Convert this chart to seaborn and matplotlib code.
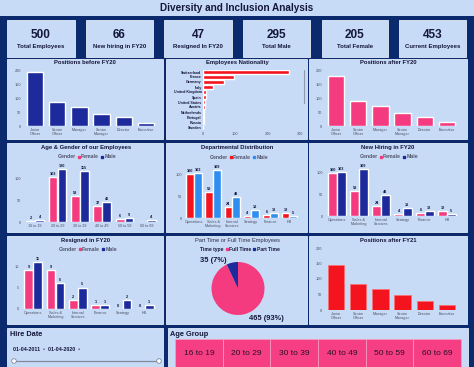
import numpy as np
import pandas as pd
import matplotlib
matplotlib.use("Agg")
import matplotlib.pyplot as plt
import seaborn as sns
from matplotlib.patches import Rectangle, Circle
from matplotlib.lines import Line2D

# ---------------- data ----------------
title = "Diversity and Inclusion Analysis"
kpi_values = ["500", "66", "47", "295", "205", "453"]
kpi_labels = ["Total Employees", "New hiring in FY20", "Resigned In FY20",
              "Total Male", "Total Female", "Current Employees"]

positions = ["Junior\nOfficer", "Senior\nOfficer", "Manager", "Senior\nManager", "Director", "Executive"]
before_fy20 = [192, 87, 69, 42, 33, 11]
after_fy20 = [179, 90, 72, 46, 33, 13]
after_fy21 = [146, 83, 69, 47, 29, 16]

countries = ["Switzerland", "France", "Germany", "Italy", "United Kingdom", "Spain",
             "United States", "Austria", "Netherlands", "Portugal", "Russia", "Sweden"]
country_counts = [267, 95, 66, 32, 9, 8, 7, 6, 4, 3, 2, 1]

age_groups = ["16 to 19", "20 to 29", "30 to 39", "40 to 49", "50 to 59", "60 to 69"]
age_female = [2, 103, 59, 37, 6, 0]
age_male = [4, 120, 115, 46, 9, 4]
age_female_labels = ["2", "103", "59", "37", "6", ""]

departments = ["Operations", "Sales &\nMarketing", "Internal\nServices", "Strategy", "Finance", "HR"]
dept_female = [100, 59, 24, 4, 6, 12]
dept_male = [103, 109, 48, 18, 12, 5]
hire_female = [100, 59, 24, 4, 6, 12]
hire_male = [103, 109, 48, 18, 12, 5]

resign_depts = ["Operations", "Sales &\nMarketing", "Internal\nServices", "Finance", "Strategy", "HR"]
resign_female = [9, 9, 2, 1, 0, 0]
resign_male = [11, 6, 5, 1, 2, 1]

time_types = ["Full Time", "Part Time"]
time_counts = [465, 35]
time_labels = ["465 (93%)", "35 (7%)"]

hire_date_text = "01-04-2011  \u25ab  01-04-2020  \u25ab"

# ---------------- style ----------------
sns.set_theme(style="white")
plt.rcParams['font.family'] = ['Liberation Sans', 'DejaVu Sans']

W, H = 474, 367
NAVY = "#0B2A6E"
PANEL = "#C8DBF6"
EDGE = "#E4EDFA"
DBLUE = "#1C2A9C"
PINK = "#F53B80"
RED = "#F3141E"
LBLUE = "#2F8EF0"
TXT = "#14163A"
TICK = "#4A4E60"

fig = plt.figure(figsize=(W / 100, H / 100), dpi=100, facecolor=NAVY)
bg = fig.add_axes([0, 0, 1, 1], zorder=0)
bg.set_xlim(0, W)
bg.set_ylim(H, 0)
bg.axis('off')


def box(x0, y0, x1, y1, fc=PANEL, ec=EDGE, lw=0.6):
    bg.add_patch(Rectangle((x0, y0), x1 - x0, y1 - y0, facecolor=fc, edgecolor=ec, lw=lw))


def chart_ax(x0, y0, x1, y1):
    ax = fig.add_axes([x0 / W, 1 - y1 / H, (x1 - x0) / W, (y1 - y0) / H], zorder=2)
    ax.set_facecolor('none')
    return ax


def style(ax, ylim, yticks, xsize=2.7):
    sns.despine(ax=ax, left=True, bottom=True)
    ax.set_xlabel('')
    ax.set_ylabel('')
    ax.set_ylim(*ylim)
    ax.set_yticks(yticks)
    ax.tick_params(axis='y', length=0, labelsize=2.8, labelcolor=TICK, pad=2)
    ax.tick_params(axis='x', length=0, labelsize=xsize, labelcolor=TICK, pad=1.5)
    for lab in ax.get_xticklabels():
        lab.set_linespacing(0.95)
    ax.grid(False)


def ptitle(x, y, s, **kw):
    bg.text(x, y, s, ha='center', va='center', fontsize=kw.pop('fontsize', 4.2),
            fontweight=kw.pop('fontweight', 'bold'), color=kw.pop('color', TXT), **kw)


def inline_legend(ax, x, y, title, labels, colors, fs=3.7, tcolor="#50546A"):
    handles = [Line2D([], [], linestyle='none')] + [
        Line2D([], [], linestyle='none', marker='s', markersize=1.8, color=c) for c in colors]
    leg = ax.legend(handles, [title] + labels, loc='center', bbox_to_anchor=(x / W, 1 - y / H),
                    bbox_transform=fig.transFigure, ncol=len(handles), frameon=False,
                    fontsize=fs, handlelength=0.5, handletextpad=0.2, columnspacing=0.4,
                    borderpad=0, borderaxespad=0)
    for t in leg.get_texts():
        t.set_color(tcolor)
        t.set_fontweight('bold')
    return leg


# ---------------- title strip & KPI cards ----------------
box(0, 0, W, 15.5, ec='none')
bg.text(W / 2, 7.8, title, ha='center', va='center', fontsize=7.2, fontweight='bold', color=TXT)

cards = [(7, 75), (86, 153), (164, 232), (243, 310), (322, 388), (399, 466)]
for (x0, x1), v, lab in zip(cards, kpi_values, kpi_labels):
    box(x0, 20, x1, 56.5)
    bg.text((x0 + x1) / 2, 35, v, ha='center', va='center', fontsize=8.5, fontweight='bold', color=TXT)
    bg.text((x0 + x1) / 2, 46.5, lab, ha='center', va='center', fontsize=4.3, fontweight='bold', color=TXT)

# ---------------- panels ----------------
cols = [(7, 163), (166, 307), (309, 467)]
rows = [(59, 138.5), (142.5, 231.5), (235.5, 323.5)]
for (y0, y1) in rows:
    for (x0, x1) in cols:
        box(x0, y0, x1, y1)
box(7, 327.5, 163, H + 2)
box(168, 327.5, 468, H + 2)

# ---------------- Row 1 ----------------
ax = chart_ax(24, 70, 157, 126)
sns.barplot(x=positions, y=before_fy20, color=DBLUE, saturation=1, width=0.73, errorbar=None, ax=ax)
style(ax, (0, 200), [0, 50, 100, 150, 200])
ptitle(85, 62.5, "Positions before FY20")

ax = chart_ax(203, 69.5, 300, 129.5)
sns.barplot(x=country_counts, y=countries, color=RED, saturation=1, width=0.7, errorbar=None,
            orient='h', ax=ax)
sns.despine(ax=ax, left=True, bottom=True)
ax.set_xlim(0, 300)
ax.set_xticks([0, 100, 200, 300])
ax.set_xlabel('')
ax.set_ylabel('')
ax.tick_params(axis='y', length=0, labelsize=2.6, labelcolor=TXT, pad=1)
ax.tick_params(axis='x', length=0, labelsize=2.8, labelcolor=TICK, pad=2)
for lab in ax.get_yticklabels():
    lab.set_fontweight('bold')
ptitle(237, 62.5, "Employees Nationality")
bg.plot([304, 304], [70, 103], color="#8E99AE", lw=0.8, solid_capstyle='round')

ax = chart_ax(325, 70, 458, 126)
sns.barplot(x=positions, y=after_fy20, color=PINK, saturation=1, width=0.73, errorbar=None, ax=ax)
style(ax, (0, 200), [0, 50, 100, 150, 200])
ptitle(388, 62.5, "Positions after FY20")


# ---------------- grouped helper ----------------
def grouped(ax, cats, fem, mal, colors, flabels=None):
    df = pd.DataFrame({"cat": list(cats) * 2,
                       "Gender": ["Female"] * len(cats) + ["Male"] * len(cats),
                       "val": list(fem) + list(mal)})
    sns.barplot(data=df, x="cat", y="val", hue="Gender", hue_order=["Female", "Male"],
                palette=colors, saturation=1, width=0.8, errorbar=None, legend=False, ax=ax)
    labs = [flabels if flabels is not None else [str(v) for v in fem], [str(v) for v in mal]]
    for c, lb in zip(ax.containers, labs):
        ax.bar_label(c, labels=lb, fontsize=2.8, fontweight='bold', color=TXT, padding=0.8)


# ---------------- Row 2 ----------------
ax = chart_ax(24, 164.8, 158, 222)
grouped(ax, age_groups, age_female, age_male, [PINK, DBLUE], age_female_labels)
style(ax, (0, 130), [0, 50, 100])
ptitle(86, 147.5, "Age & Gender of our Employees")
inline_legend(ax, 85, 157, "Gender", ["Female", "Male"], [PINK, DBLUE])

ax = chart_ax(184.5, 160.8, 299, 218)
grouped(ax, departments, dept_female, dept_male, [RED, LBLUE])
style(ax, (0, 130), [0, 50, 100])
ptitle(237, 148, "Departmental Distribution")
inline_legend(ax, 237, 157.5, "Gender", ["Female", "Male"], [RED, LBLUE])

ax = chart_ax(326, 160.1, 458, 216)
grouped(ax, departments, hire_female, hire_male, [PINK, DBLUE])
style(ax, (0, 130), [0, 50, 100])
ptitle(388, 147.5, "New Hiring in FY20")
inline_legend(ax, 387, 157, "Gender", ["Female", "Male"], [PINK, DBLUE])

# ---------------- Row 3 ----------------
ax = chart_ax(22, 253.1, 156, 309)
grouped(ax, resign_depts, resign_female, resign_male, [PINK, DBLUE])
style(ax, (0, 13), [0, 5, 10])
ptitle(86, 240.5, "Resigned in FY20")
inline_legend(ax, 86, 249.5, "Gender", ["Female", "Male"], [PINK, DBLUE])

ax = chart_ax(211.5, 262, 264.5, 315)
ax.pie(time_counts, colors=[PINK, DBLUE], startangle=90, counterclock=False, radius=1,
       wedgeprops=dict(linewidth=0))
ax.set_xlim(-1, 1)
ax.set_ylim(-1, 1)
ptitle(238, 240.5, "Part Time or Full Time Employees", fontweight='normal', fontsize=4.1, color="#2A2C48")
inline_legend(ax, 238, 249.5, "Time type", time_types, [PINK, DBLUE], fs=3.6, tcolor=TXT)
bg.text(213, 260, time_labels[1], ha='center', va='center', fontsize=5.4, fontweight='bold', color=TXT)
bg.text(266.5, 318.5, time_labels[0], ha='center', va='center', fontsize=5.4, fontweight='bold', color=TXT)

ax = chart_ax(325, 248, 458, 310)
sns.barplot(x=positions, y=after_fy21, color=RED, saturation=1, width=0.73, errorbar=None,
            edgecolor="#FF7070", linewidth=0.5, ax=ax)
style(ax, (0, 200), [0, 50, 100, 150, 200])
ptitle(388, 240.5, "Positions after FY21")

# ---------------- bottom slicers ----------------
bg.text(10, 334.5, "Hire Date", ha='left', va='center', fontsize=5.3, fontweight='bold', color=TXT)
bg.text(13, 349.5, hire_date_text, ha='left', va='center', fontsize=3.8, fontweight='bold', color=TXT)
bg.plot([14, 159], [361, 361], color="#7F8A9E", lw=0.9, zorder=2)
for cx in (14, 159):
    bg.add_patch(Circle((cx, 361), 2.3, facecolor='white', edgecolor="#7F8A9E", lw=0.6, zorder=3))

bg.text(170, 334.5, "Age Group", ha='left', va='center', fontsize=5.3, fontweight='bold', color=TXT)
tx0, tx1 = 175, 461
tw = (tx1 - tx0) / len(age_groups)
for i, g in enumerate(age_groups):
    x = tx0 + i * tw
    bg.add_patch(Rectangle((x, 339), tw, 30, facecolor="#F63E82", edgecolor="#F7A2C4", lw=0.5))
    bg.text(x + tw / 2, 353.5, g, ha='center', va='center', fontsize=6, color="#2B1028")

fig.savefig("out.png", dpi=100, facecolor=NAVY)
